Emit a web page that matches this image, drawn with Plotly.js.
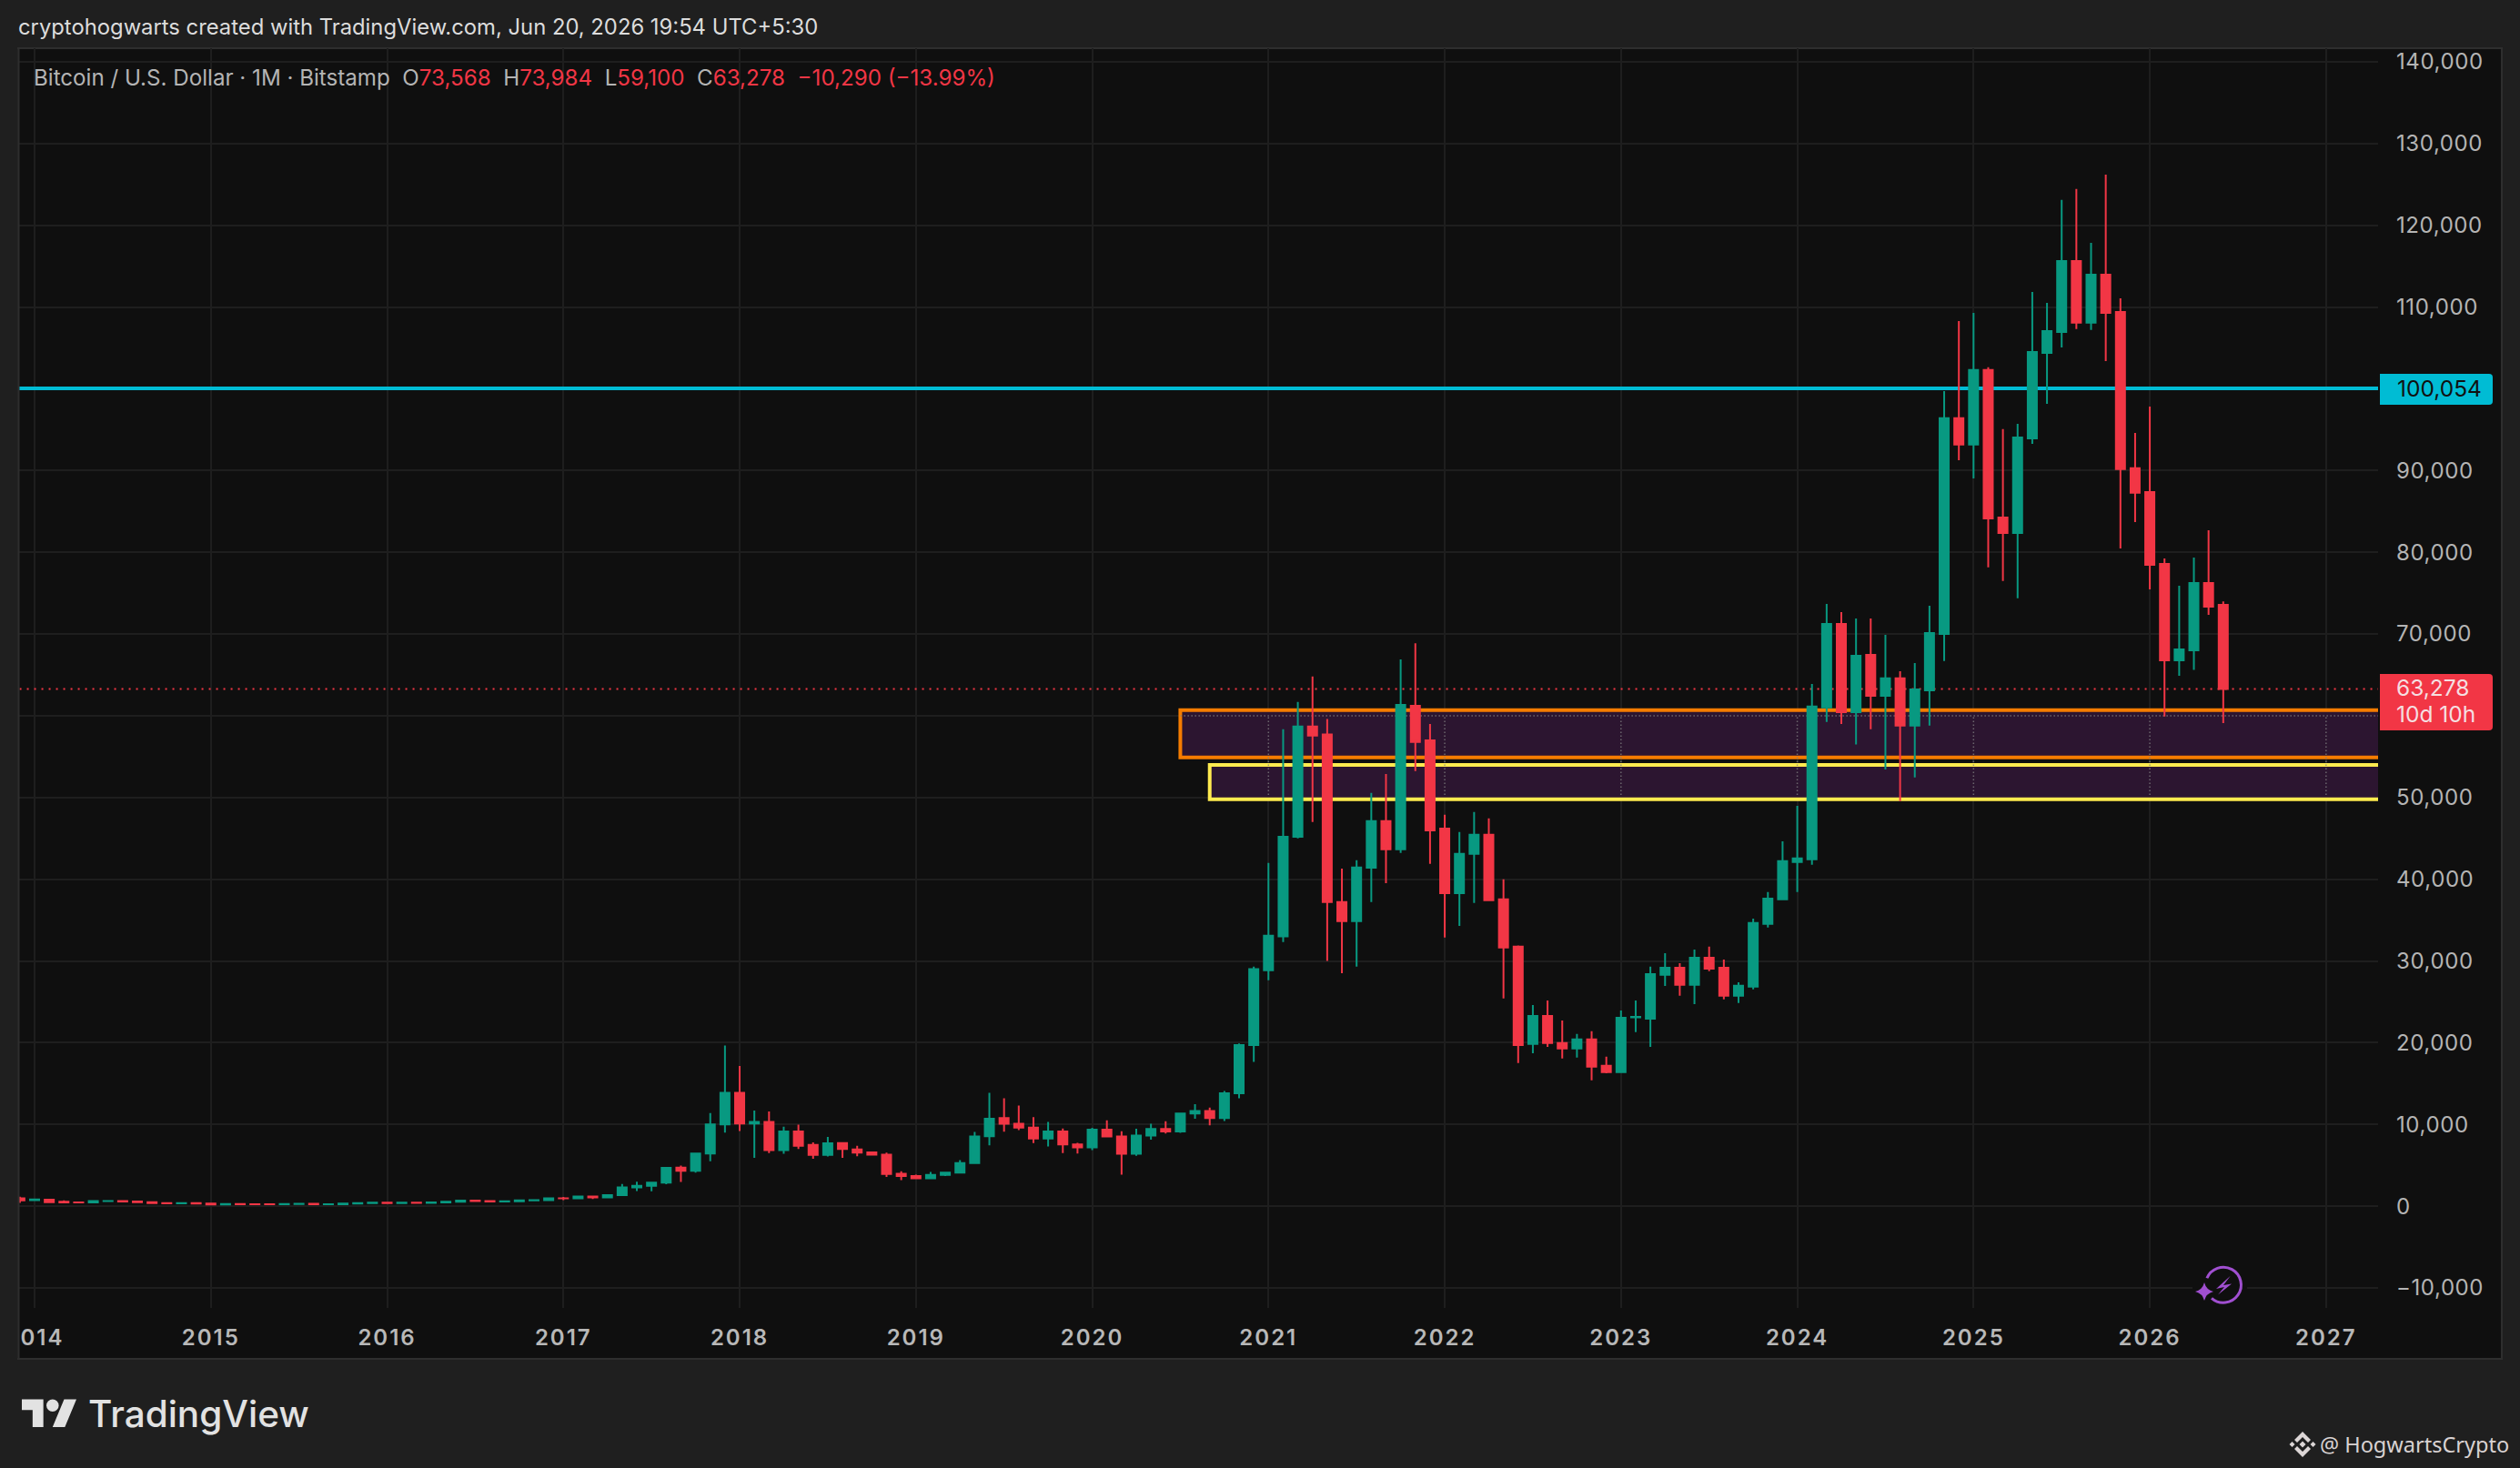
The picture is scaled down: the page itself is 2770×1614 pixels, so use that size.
<!DOCTYPE html>
<html>
<head>
<meta charset="utf-8">
<script src="https://cdn.plot.ly/plotly-3.0.1.min.js"></script>
<style>html,body{margin:0;padding:0;background:#1f1f1f}#chart{width:2770px;height:1614px}
.xtick text{letter-spacing:2px}
.ytick text{letter-spacing:0.6px}
</style>
</head>
<body>
<div id="chart"></div>
<script>
// Monthly candles, December 2013 to June 2026
const startYear = 2013, startMonth = 12;
const opens = [950,
  732,800,550,450,447,627,636,585,477,388,338,378,
  320,218,255,244,236,230,263,284,230,236,314,378,
  430,369,436,416,448,533,670,621,575,608,700,745,
  970,960,1190,1079,1347,2286,2480,2875,4720,4340,6440,10000,
  13880,10100,10320,6850,9150,7490,6270,7720,6950,6590,6300,3970,
  3700,3410,3820,4100,5280,8550,10770,10080,9600,8290,9150,7550,
  7190,9350,8540,6420,8630,9450,9130,11350,11650,10780,13800,19700,
  28850,33000,45200,58690,57700,37200,34870,41400,47100,43650,61230,57000,
  46200,38300,43100,45440,37540,31750,19840,23280,19950,19280,20400,17170,
  16390,23100,22950,28300,29180,27070,30400,29180,25740,26850,34530,37530,
  42100,42440,61030,71240,60450,67460,62450,64570,58800,63120,70000,96400,
  93170,102300,84260,82370,93940,104400,106960,115640,108080,113960,109410,90280,
  87380,78580,66780,68000,76250,73568];
const highs = [1150,
  860,800,700,450,627,636,636,585,477,388,378,378,
  320,255,255,244,236,263,284,284,236,314,378,430,
  430,436,436,448,533,670,670,621,608,700,745,963,
  1130,1190,1280,1370,2700,2980,2920,4800,4980,6440,11400,19666,
  17150,11700,11600,9730,9980,7800,8480,7720,7400,6640,6550,4270,
  3840,4190,4130,5640,9080,13880,13200,12320,10900,10300,9500,7760,
  9580,10500,9180,9460,10080,10380,11450,12480,12070,14100,19900,29300,
  41980,58350,61680,64800,59590,41300,42320,50560,52880,66900,68860,58980,
  47880,45780,48220,47450,39980,31900,24620,25170,22720,21060,21400,18280,
  23950,25170,29300,30960,29730,31400,31750,30170,27400,35190,38420,44650,
  48970,63900,73690,72680,71900,71900,69900,65450,66450,73450,99730,108300,
  109300,102650,95060,95720,111860,110520,123100,124440,117860,126200,111080,94610,
  97840,79250,75900,79360,82700,73984];
const lows = [400,
  700,500,440,440,447,627,585,430,388,338,338,320,
  218,218,244,236,230,230,263,230,230,236,314,378,
  369,369,416,416,448,533,621,575,575,608,700,745,
  730,960,880,1079,1340,1850,1830,2680,2950,4110,5500,9000,
  9200,5900,6500,6400,7000,5800,6070,5900,6100,6200,3580,3200,
  3350,3370,3700,4100,5200,7450,9100,9300,7710,7300,6510,6430,
  6850,8470,3850,6150,8130,8900,8980,10700,9880,10420,13200,17650,
  27640,32300,45000,47000,30000,28500,29300,37200,39530,43210,53240,41870,
  32860,34300,37100,37430,25400,17500,18700,19500,18070,18170,15390,16270,
  16390,21290,19500,26950,25740,24730,28740,25290,24850,26520,34080,37530,
  38420,41770,59240,59000,56480,58340,53440,49570,52460,58800,66700,91250,
  89040,78150,76480,74370,93260,98170,105070,107300,107200,103400,80480,83700,
  75470,59900,64900,65600,72350,59100];
const closes = [700,
  830,500,450,447,627,636,585,477,388,338,378,320,
  218,255,244,236,230,263,284,230,236,314,378,430,
  369,436,416,448,533,670,621,575,608,700,745,963,
  960,1190,1079,1347,2286,2480,2875,4700,4340,6440,10000,13860,
  10100,10320,6850,9150,7400,6270,7700,7000,6550,6300,3950,3700,
  3410,3820,4100,5280,8520,10700,10080,9600,8290,9150,7560,7190,
  9350,8540,6420,8630,9450,9130,11350,11650,10780,13800,19700,29000,
  33080,45200,58680,57580,37200,34870,41450,47100,43650,61340,56780,45970,
  38300,43100,45440,37430,31640,19720,23280,19950,19280,20400,17060,16390,
  23060,23170,28400,29180,27070,30400,29070,25740,26960,34640,37640,42210,
  42550,61140,71240,60450,67350,62450,64570,58800,63230,70130,96400,93170,
  102300,84150,82370,94050,104500,107050,115640,108080,113960,109300,90170,87270,
  78470,66780,68110,76250,73350,63278];

const yearTicks = [2014,2015,2016,2017,2018,2019,2020,2021,2022,2023,2024,2025,2026,2027];
const priceTicks = [140000,130000,120000,110000,100000,90000,80000,70000,60000,50000,40000,30000,20000,10000,0,-10000];
const priceLabels = ['140,000','130,000','120,000','110,000','','90,000','80,000','70,000','','50,000','40,000','30,000','20,000','10,000','0','\u221210,000'];
const resistanceLevel = 100054, lastClose = 63278;
const orangeZone = {from:'2020-07', top:60676, bottom:54890};
const yellowZone = {from:'2020-09', top:53990, bottom:49770};

const pad = n => String(n).padStart(2,'0');
const allMonths = [];
for (let y = startYear, m = startMonth; y < 2027 || m <= 6; ) {
  allMonths.push(y + '-' + pad(m));
  m++; if (m > 12) { m = 1; y++; }
}
const months = allMonths.slice(0, closes.length);
const lastMonth = allMonths[allMonths.length-1];

const RED = '#f23645', GREEN = '#089981', BG = '#0f0f0f', OUTER = '#1f1f1f', GRID = '#1e1e1e', FRAME = '#2e2e2e';
const PL = 20, PR = 2614, PT = 53, PB = 1438;
const X = px => (px - PL) / (PR - PL);
const Y = py => 1 - (py - PT) / (PB - PT);

const pxRect = (x0,y0,x1,y1,extra) => Object.assign({type:'rect',xref:'paper',yref:'paper',x0:X(x0),x1:X(x1),y0:Y(y0),y1:Y(y1),line:{width:0}},extra);
const badge = (x0,y0,x1,y1,r,color) => ({type:'path',xref:'paper',yref:'paper',layer:'above',fillcolor:color,line:{width:0},
  path:`M${X(x0)},${Y(y0)} L${X(x1-r)},${Y(y0)} Q${X(x1)},${Y(y0)} ${X(x1)},${Y(y0+r)} L${X(x1)},${Y(y1-r)} Q${X(x1)},${Y(y1)} ${X(x1-r)},${Y(y1)} L${X(x0)},${Y(y1)} Z`});
const hLine = (v,color,width,dash) => ({type:'line',xref:'x',yref:'y',x0:-2,x1:lastMonth,y0:v,y1:v,layer:'between',line:{color,width,dash:dash||'solid'}});

const zone = (z,color) => ({type:'rect',xref:'x',yref:'y',x0:z.from,x1:lastMonth,y0:z.bottom,y1:z.top,layer:'between',fillcolor:'#2c1530',line:{color,width:4}});
const DOT = {color:'rgba(130,130,130,0.75)',width:1.5,dash:'1.5px,2.5px'};
const zoneGrid = yearTicks.filter(y => y >= 2021).map(y => ({type:'line',xref:'x',yref:'y',x0:y+'-01',x1:y+'-01',y0:50300,y1:60000,layer:'between',line:DOT}));

const shapes = [
  pxRect(20,53,2750,1494,{layer:'below',fillcolor:BG,line:{color:FRAME,width:2}}),
  hLine(lastClose,RED,2,'2px,6px'),
  hLine(resistanceLevel,'#00bcd4',4),
  zone(orangeZone,'#f57c00'),
  zone(yellowZone,'#ffeb4f'),
  {type:'line',xref:'x',yref:'y',x0:orangeZone.from,x1:lastMonth,y0:60000,y1:60000,layer:'between',line:DOT},
  ...zoneGrid,
  pxRect(-6,53,20.5,1494,{layer:'above',fillcolor:OUTER,line:{color:FRAME,width:2}}),
  pxRect(-6,40,19,1510,{layer:'above',fillcolor:OUTER}),
  badge(2616,411,2740,445,4,'#00bcd4'),
  badge(2616,741,2740,803,4,RED)
];

const note = (px,py,text,font,anchor) => ({xref:'paper',yref:'paper',x:X(px),y:Y(py),text,showarrow:false,xanchor:anchor||'left',yanchor:'middle',borderpad:0,font});
const UI = 'Inter, "Liberation Sans", sans-serif';
const red = s => `<span style="color:${RED}">${s}</span>`;
const annotations = [
  note(19,30,'cryptohogwarts created with TradingView.com, Jun 20, 2026 19:54 UTC+5:30',{family:UI,size:23.8,color:'#dcdcdc'}),
  note(36,85,`Bitcoin / U.S. Dollar \u00b7 1M \u00b7 Bitstamp  O${red('73,568')}  H${red('73,984')}  L${red('59,100')}  C${red('63,278')}  ${red('\u221210,290 (\u221213.99%)')}`,{family:UI,size:24.15,color:'#b4b4b4'}),
  note(2634,427,'100,054',{family:UI,size:24.5,color:'#101010'}),
  note(2633,756,'63,278',{family:UI,size:24.5,color:'#f5dfe1'}),
  note(2633,785,'10d 10h',{family:UI,size:24.5,color:'#f5dfe1'}),
  note(96,1554,'TradingView',{family:UI,size:40.5,color:'#e2e2e2',weight:500}),
  note(2549,1588,'@ HogwartsCrypto',{family:'"Noto Sans", sans-serif',size:23.5,color:'#d8d2d2'})
];

const svg = s => 'data:image/svg+xml;charset=utf-8,' + encodeURIComponent(s);
const pic = (px,py,w,h,s) => ({source:svg(s),xref:'paper',yref:'paper',x:X(px),y:Y(py),sizex:w/(PR-PL),sizey:h/(PB-PT),xanchor:'left',yanchor:'top',sizing:'stretch',layer:'above'});
const images = [
  pic(24,1535,60,34,`<svg xmlns="http://www.w3.org/2000/svg" viewBox="0 2 35.5 20" width="60" height="34"><path fill="#e2e2e2" d="M14 22H7V11H0V4h14v18zM28 22h-8l7.5-18h8L28 22z"/><circle fill="#e2e2e2" cx="20" cy="8" r="4"/></svg>`),
  pic(2410,1388,60,50,`<svg xmlns="http://www.w3.org/2000/svg" viewBox="2410 1388 60 50" width="60" height="50"><rect x="2410" y="1388" width="60" height="50" fill="${BG}"/><path d="M2425.9 1405.3A19.5 19.5 0 1 1 2431 1427.3" fill="none" stroke="#a04fd0" stroke-width="3"/><path fill="#a04fd0" d="M2451.7 1402.7L2436 1417L2445 1415L2438 1423.5L2453 1411.5L2444 1413Z"/><path fill="#a04fd0" d="M2423 1410Q2425 1418 2433 1420Q2425 1422 2423 1430Q2421 1422 2413 1420Q2421 1418 2423 1410Z"/></svg>`),
  pic(2515,1572,32,32,`<svg xmlns="http://www.w3.org/2000/svg" viewBox="2515 1572 32 32" width="32" height="32"><g fill="#dcd6d6"><path d="M2531 1574L2540 1583L2537 1586L2531 1580L2525 1586L2522 1583Z"/><path d="M2531 1602L2540 1593L2537 1590L2531 1596L2525 1590L2522 1593Z"/><path d="M2519.5 1585L2522.5 1588L2519.5 1591L2516.5 1588Z"/><path d="M2542.5 1585L2545.5 1588L2542.5 1591L2539.5 1588Z"/><path d="M2531 1584.5L2534.5 1588L2531 1591.5L2527.5 1588Z"/></g></svg>`)
];

const trace = {
  type:'candlestick', x:months, open:opens, high:highs, low:lows, close:closes,
  whiskerwidth:0,
  increasing:{line:{color:GREEN,width:2},fillcolor:GREEN},
  decreasing:{line:{color:RED,width:2},fillcolor:RED},
  showlegend:false, hoverinfo:'skip'
};

const layout = {
  width:2770, height:1614, autosize:false,
  margin:{l:PL,r:2770-PR,t:PT,b:1614-PB,pad:0},
  paper_bgcolor:OUTER, plot_bgcolor:BG,
  boxgap:0.38, boxgroupgap:0, showlegend:false, dragmode:false,
  xaxis:{type:'category',categoryorder:'array',categoryarray:allMonths,range:[-0.115,160.54],
    tickmode:'array',tickvals:yearTicks.map(y=>y+'-01'),ticktext:yearTicks.map(String),tickangle:0,
    showgrid:true,gridcolor:GRID,gridwidth:2,zeroline:false,showline:false,ticks:'',
    ticklabelstandoff:16,tickfont:{family:UI,size:24,color:'#b8b8b8',weight:600},
    rangeslider:{visible:false}},
  yaxis:{side:'right',range:[-12448,141669],tickmode:'array',tickvals:priceTicks,ticktext:priceLabels,
    showgrid:true,gridcolor:GRID,gridwidth:2,zeroline:false,showline:false,ticks:'',
    ticklabelstandoff:19,tickfont:{family:UI,size:24,color:'#b4b4b4'}},
  shapes, annotations, images
};
Plotly.newPlot('chart',[trace],layout,{displayModeBar:false,responsive:false});
</script>
</body>
</html>
